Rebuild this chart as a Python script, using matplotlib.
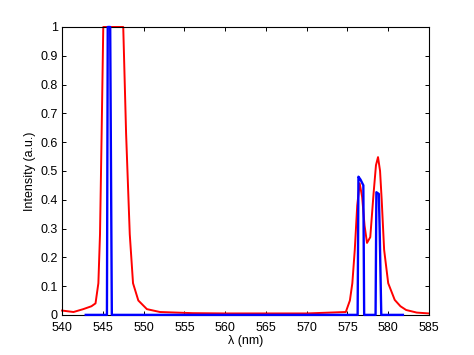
import numpy as np
import matplotlib
matplotlib.use("Agg")
import matplotlib.pyplot as plt

# ==========================================================
# SPECTRA
# ==========================================================

# Red: broad emission spectrum
red_wl = [540.0, 541.4, 542.6, 543.6, 544.1, 544.45, 544.65, 544.85, 545.05,
          547.5, 547.85, 548.3, 548.7, 549.35, 550.4, 552.0, 556.0, 560.0,
          570.0, 574.8, 575.3, 575.6, 575.9, 576.2, 576.5, 576.8, 577.1,
          577.4, 577.8, 578.2, 578.5, 578.75, 579.0, 579.2, 579.5, 580.0,
          580.8, 581.5, 582.2, 583.5, 585.0]
red_int = [0.015, 0.010, 0.020, 0.030, 0.040, 0.110, 0.280, 0.630, 1.000,
           1.000, 0.630, 0.280, 0.110, 0.050, 0.020, 0.010, 0.006, 0.005,
           0.005, 0.010, 0.050, 0.110, 0.226, 0.380, 0.457, 0.410, 0.310,
           0.250, 0.270, 0.420, 0.520, 0.548, 0.500, 0.400, 0.226, 0.110,
           0.052, 0.030, 0.017, 0.008, 0.005]

# Blue: narrow line spectrum
blue_wl = [542.9, 545.0, 545.5, 545.6, 545.9, 546.0, 546.1, 548.8,
           574.9, 576.25, 576.35, 576.6, 576.95, 577.05,
           578.45, 578.55, 578.85, 578.95, 579.15, 581.8]
blue_int = [0.0, 0.0, 0.0, 1.0, 1.0, 0.5, 0.0, 0.0,
            0.0, 0.0, 0.48, 0.47, 0.45, 0.0,
            0.0, 0.426, 0.42, 0.30, 0.0, 0.0]

x_ticks = list(range(540, 586, 5))
y_ticks = [round(0.1 * i, 1) for i in range(11)]
y_tick_labels = ["0"] + [f"{v:g}" for v in y_ticks[1:-1]] + ["1"]

# ==========================================================
# PLOT
# ==========================================================

plt.rcParams["font.family"] = ["Liberation Sans", "DejaVu Sans"]

fig = plt.figure(figsize=(4.74, 3.55), dpi=100)
ax = fig.add_axes([0.131, 0.113, 0.774, 0.811])

ax.plot(blue_wl, blue_int, color="#0000ff", lw=1.7, clip_on=False, zorder=3)
ax.plot(red_wl, red_int, color="#ff0000", lw=1.4, clip_on=False, zorder=2)

ax.set_xlim(540, 585)
ax.set_ylim(0, 1)
ax.set_xticks(x_ticks)
ax.set_yticks(y_ticks)
ax.set_yticklabels(y_tick_labels)
ax.tick_params(direction="in", top=True, right=True, length=3,
               width=0.7, labelsize=9)
ax.tick_params(axis="x", pad=5)
ax.tick_params(axis="y", pad=3)
for sp in ax.spines.values():
    sp.set_linewidth(0.8)

ax.set_xlabel("λ (nm)", fontsize=9, labelpad=1)
ax.set_ylabel("Intensity (a.u.)", fontsize=9, labelpad=3)

fig.savefig("out.png", dpi=100)
